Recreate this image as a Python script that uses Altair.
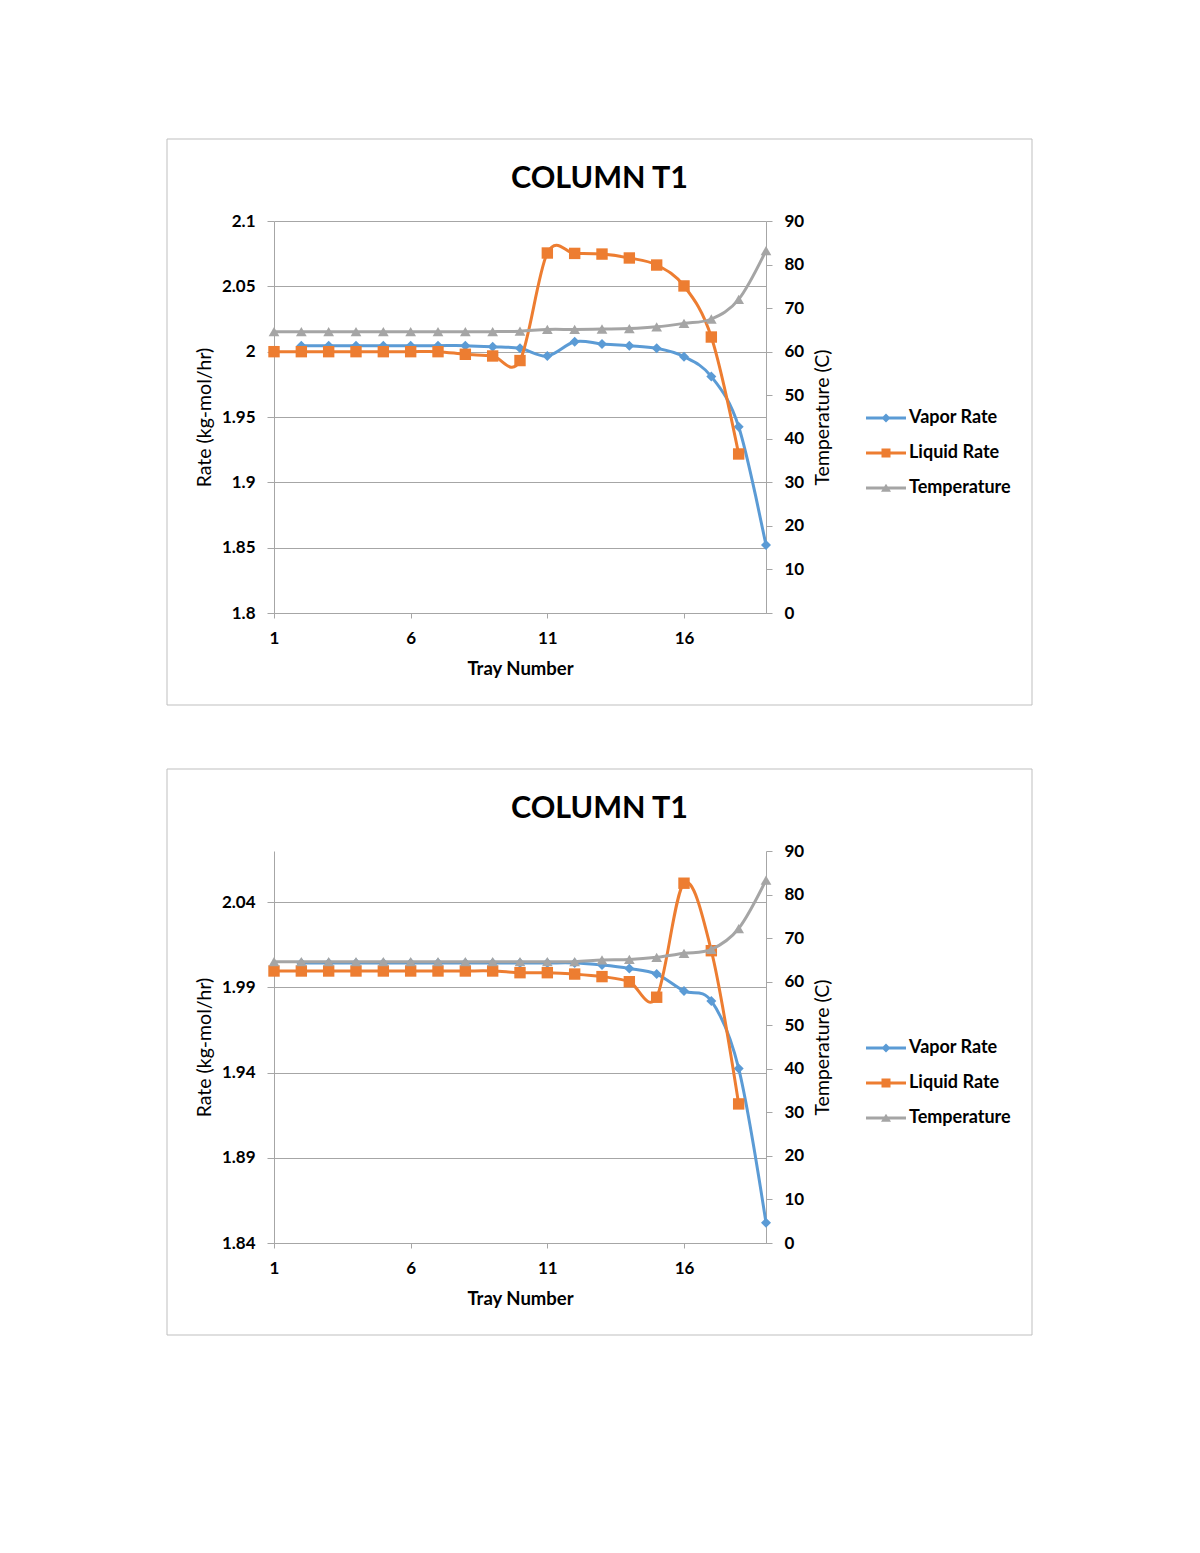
import altair as alt
import pandas as pd

# Series and styling
SERIES = ["Vapor Rate", "Liquid Rate", "Temperature"]
COLORS = ["#5B9BD5", "#ED7D31", "#A5A5A5"]
GRID = "#A6A6A6"
FONT = "Lato"

VAPOR_TRAYS = list(range(2, 20))
LIQUID_TRAYS = list(range(1, 19))
TEMP_TRAYS = list(range(1, 20))
X_TICKS = [1, 6, 11, 16]
TEMP_TICKS = [0, 10, 20, 30, 40, 50, 60, 70, 80, 90]

# Upper column profile
top_vapor = [2.0046, 2.0046, 2.0046, 2.0046, 2.0046, 2.0046, 2.0046, 2.0038, 2.0026,
             1.9967, 2.0076, 2.0059, 2.0046, 2.0026, 1.9962, 1.9810, 1.9426, 1.8520]
top_liquid = [2.0000, 2.0000, 2.0000, 2.0000, 2.0000, 2.0000, 2.0000, 1.9980, 1.9967,
              1.9932, 2.0755, 2.0752, 2.0747, 2.0717, 2.0663, 2.0503, 2.0112, 1.9217]
top_temp = [64.6, 64.6, 64.6, 64.6, 64.6, 64.6, 64.6, 64.6, 64.6, 64.7,
            65.1, 65.1, 65.2, 65.3, 65.7, 66.5, 67.5, 72.0, 83.2]
top_rate_ticks = [1.8, 1.85, 1.9, 1.95, 2.0, 2.05, 2.1]
top_rate_domain = [1.8, 2.1]

# Lower column profile
bottom_vapor = [2.0043, 2.0043, 2.0043, 2.0043, 2.0043, 2.0043, 2.0043, 2.0043, 2.0043,
                2.0043, 2.0043, 2.0031, 2.0011, 1.9978, 1.9879, 1.9820, 1.9424, 1.8519]
bottom_liquid = [1.9996, 1.9996, 1.9996, 1.9996, 1.9996, 1.9996, 1.9996, 1.9996, 1.9996,
                 1.9986, 1.9986, 1.9978, 1.9963, 1.9933, 1.9842, 2.0511, 2.0115, 1.9216]
bottom_temp = [64.6, 64.6, 64.6, 64.6, 64.6, 64.6, 64.6, 64.6, 64.6, 64.6,
               64.6, 64.6, 65.0, 65.1, 65.6, 66.5, 67.4, 72.2, 83.3]
bottom_rate_ticks = [1.84, 1.89, 1.94, 1.99, 2.04]
bottom_rate_domain = [1.84, 2.07]

PLOT_W, PLOT_H = 492, 392

# Legend glyphs: a line segment with the series marker in its middle
LINE = "M-2,-0.14H2V0.14H-2Z"
GLYPHS = {
    "Vapor Rate": LINE + "M0,-0.45L0.45,0L0,0.45L-0.45,0Z",
    "Liquid Rate": LINE + "M-0.45,-0.45H0.45V0.45H-0.45Z",
    "Temperature": LINE + "M0,-0.42L0.5,0.38H-0.5Z",
}
shape_expr = ("datum.value === 'Vapor Rate' ? '%s' : datum.value === 'Liquid Rate' ? '%s' : '%s'"
              % (GLYPHS["Vapor Rate"], GLYPHS["Liquid Rate"], GLYPHS["Temperature"]))
fill_expr = ("datum.value === 'Vapor Rate' ? '%s' : datum.value === 'Liquid Rate' ? '%s' : '%s'"
             % tuple(COLORS))

legend = alt.Legend(
    title=None, orient="none", legendX=602, legendY=187, padding=0,
    symbolSize=400, labelOffset=13, rowPadding=16,
    symbolType={"expr": shape_expr}, symbolFillColor={"expr": fill_expr},
    symbolStrokeWidth=0, symbolOpacity=1,
    labelFont=FONT, labelFontSize=18, labelFontWeight="bold", labelColor="black",
)

color = alt.Color("Series:N", scale=alt.Scale(domain=SERIES, range=COLORS), legend=legend)

x_enc = alt.X(
    "Tray:Q",
    scale=alt.Scale(domain=[1, 19], nice=False, zero=False),
    axis=alt.Axis(values=X_TICKS, format="d", grid=False, title="Tray Number",
                  tickSize=5, labelPadding=12, labelFlush=False,
                  titleFontWeight="bold", titleFontSize=18.5,
                  titleY=55, titleBaseline="middle"),
)


def series_layers(df, shape, size, y_enc):
    line = alt.Chart(df).mark_line(
        interpolate="cardinal", strokeWidth=3, strokeJoin="round", strokeCap="round"
    ).encode(x=x_enc, y=y_enc, color=color)
    pts = alt.Chart(df).mark_point(
        shape=shape, filled=True, size=size, opacity=1
    ).encode(x=x_enc, y=y_enc, color=color)
    return [line, pts]


def panel(vapor, liquid, temp, rate_domain, rate_ticks, rate_fmt):
    vap_df = pd.DataFrame({"Tray": VAPOR_TRAYS, "Value": vapor, "Series": "Vapor Rate"})
    liq_df = pd.DataFrame({"Tray": LIQUID_TRAYS, "Value": liquid, "Series": "Liquid Rate"})
    tmp_df = pd.DataFrame({"Tray": TEMP_TRAYS, "Value": temp, "Series": "Temperature"})

    y_rate = alt.Y(
        "Value:Q",
        scale=alt.Scale(domain=rate_domain, nice=False, zero=False),
        axis=alt.Axis(values=rate_ticks, format=rate_fmt, grid=True, title="Rate (kg-mol/hr)",
                      tickSize=7, labelPadding=12, titleAngle=270, titleX=-70,
                      titleY=PLOT_H / 2, titleBaseline="middle", titleFontWeight="normal"),
    )
    y_temp = alt.Y(
        "Value:Q",
        scale=alt.Scale(domain=[0, 90], nice=False, zero=False),
        axis=alt.Axis(orient="right", values=TEMP_TICKS, format="d", grid=False,
                      title="Temperature (C)", tickSize=6, labelPadding=12,
                      titleAngle=270, titleX=56, titleY=PLOT_H / 2,
                      titleBaseline="middle", titleFontWeight="normal"),
    )

    frame = alt.Chart(alt.Data(values=[{"k": 0}])).mark_rect(
        fillOpacity=0, stroke="#BFBFBF", strokeWidth=1
    ).encode(x=alt.value(-107), x2=alt.value(758), y=alt.value(-82), y2=alt.value(484))

    heading = alt.Chart(alt.Data(values=[{"t": "COLUMN T1"}])).mark_text(
        font=FONT, fontSize=30.5, fontWeight="bold", align="center", baseline="middle",
        color="black"
    ).encode(x=alt.value(325.5), y=alt.value(-42), text="t:N")

    rates = alt.layer(*series_layers(vap_df, "diamond", 100, y_rate),
                      *series_layers(liq_df, "square", 130, y_rate))
    temps = alt.layer(*series_layers(tmp_df, "triangle-up", 115, y_temp))

    return alt.layer(frame, rates, temps, heading).resolve_scale(y="independent").properties(
        width=PLOT_W, height=PLOT_H
    )


upper = panel(top_vapor, top_liquid, top_temp, top_rate_domain, top_rate_ticks, "~g")
lower = panel(bottom_vapor, bottom_liquid, bottom_temp, bottom_rate_domain, bottom_rate_ticks, ".2f")

chart = alt.vconcat(upper, lower, spacing=238, bounds="flush").resolve_scale(
    color="independent"
).properties(
    padding={"left": 166, "top": 138, "right": 0, "bottom": 0}, background="white"
).configure(font=FONT).configure_view(stroke=None).configure_axis(
    labelFont=FONT, labelFontSize=17, labelFontWeight="bold", labelColor="black",
    titleFont=FONT, titleFontSize=19.5, titleColor="black",
    domainColor=GRID, tickColor=GRID, gridColor=GRID, domainWidth=1, tickWidth=1, gridWidth=1,
)

chart.save("out.html", embed_options={"renderer": "svg", "actions": False})
